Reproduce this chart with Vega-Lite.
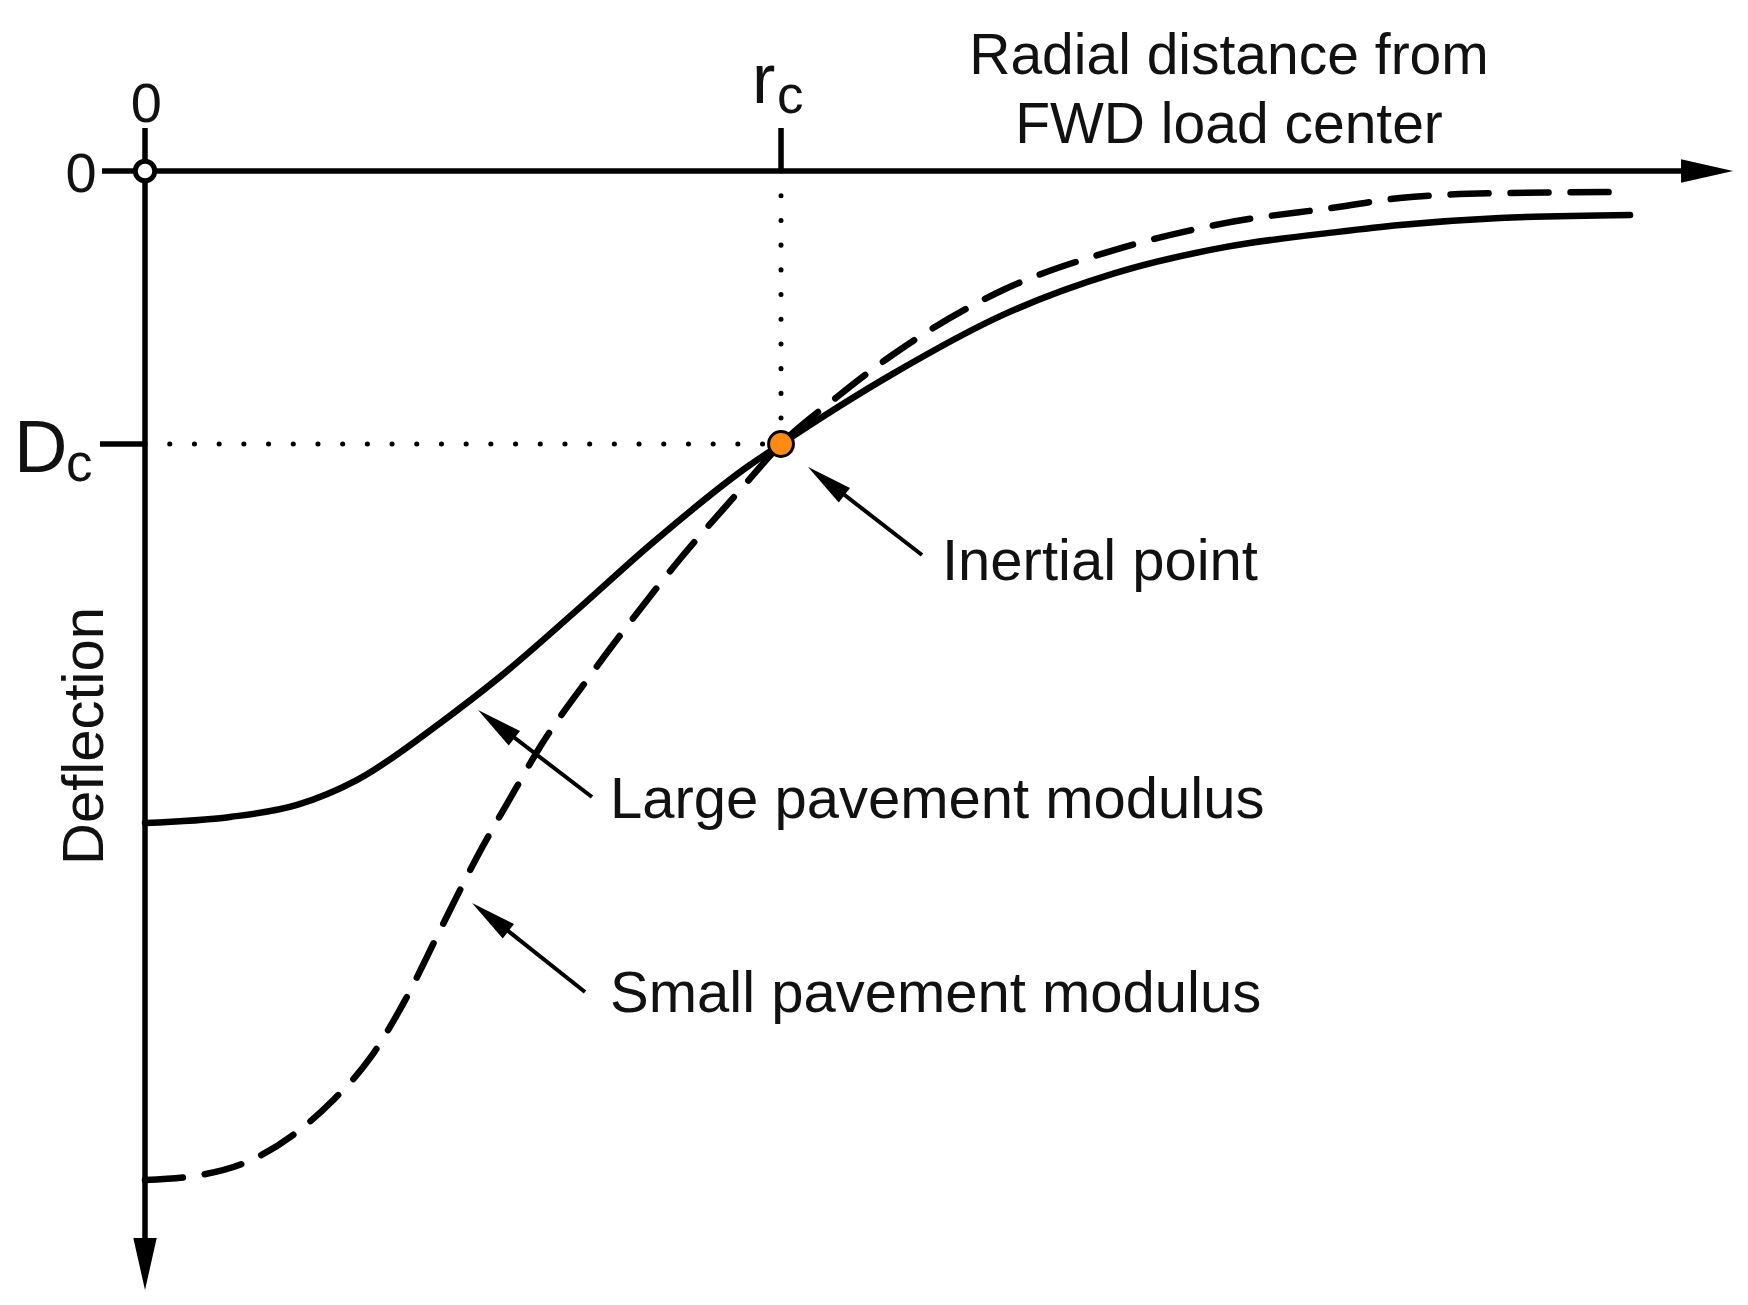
{
  "$schema": "https://vega.github.io/schema/vega-lite/v6.json",
  "width": 1748,
  "height": 1305,
  "autosize": {"type": "none"},
  "padding": 0,
  "background": "white",
  "config": {"view": {"stroke": null}, "text": {"font": "Liberation Sans", "color": "#111"}},
  "datasets": {
    "curve_large": [
      {"r": 0, "d": 2.388}, {"r": 0.134, "d": 2.366}, {"r": 0.239, "d": 2.322}, {"r": 0.333, "d": 2.231},
      {"r": 0.464, "d": 2.022}, {"r": 0.558, "d": 1.853}, {"r": 0.676, "d": 1.615}, {"r": 0.794, "d": 1.370},
      {"r": 0.951, "d": 1.077}, {"r": 1.0, "d": 1.0}, {"r": 1.175, "d": 0.744}, {"r": 1.349, "d": 0.527},
      {"r": 1.525, "d": 0.374}, {"r": 1.700, "d": 0.278}, {"r": 1.876, "d": 0.223}, {"r": 1.973, "d": 0.198},
      {"r": 2.130, "d": 0.172}, {"r": 2.335, "d": 0.161}
    ],
    "curve_small": [
      {"r": 0, "d": 3.696}, {"r": 0.086, "d": 3.678}, {"r": 0.160, "d": 3.630}, {"r": 0.239, "d": 3.520},
      {"r": 0.296, "d": 3.403}, {"r": 0.354, "d": 3.249}, {"r": 0.409, "d": 3.037}, {"r": 0.464, "d": 2.780},
      {"r": 0.522, "d": 2.513}, {"r": 0.579, "d": 2.278}, {"r": 0.621, "d": 2.110}, {"r": 0.695, "d": 1.864},
      {"r": 0.763, "d": 1.652}, {"r": 0.836, "d": 1.436}, {"r": 0.936, "d": 1.168}, {"r": 1.0, "d": 1.0},
      {"r": 1.088, "d": 0.828}, {"r": 1.175, "d": 0.674}, {"r": 1.349, "d": 0.436}, {"r": 1.525, "d": 0.289},
      {"r": 1.700, "d": 0.190}, {"r": 1.876, "d": 0.132}, {"r": 1.973, "d": 0.099}, {"r": 2.130, "d": 0.081},
      {"r": 2.335, "d": 0.077}
    ],
    "axes": [
      {"x1": -0.0676, "y1": 0, "x2": 2.445, "y2": 0},
      {"x1": 0, "y1": -0.1575, "x2": 0, "y2": 3.989},
      {"x1": 1, "y1": -0.1575, "x2": 1, "y2": 0},
      {"x1": -0.0708, "y1": 1, "x2": 0, "y2": 1}
    ],
    "guides": [
      {"x1": 0, "y1": 1, "x2": 1, "y2": 1},
      {"x1": 1, "y1": 0, "x2": 1, "y2": 1}
    ],
    "tip_right": [{"x": 2.4969, "y": 0}],
    "tip_down": [{"x": 0, "y": 4.099}],
    "pointers": [
      {"x1": 0.7028, "y1": 2.2930, "x2": 0.5487, "y2": 2.0183, "xt": 0.5236, "yt": 1.9744},
      {"x1": 0.6918, "y1": 3.0073, "x2": 0.5393, "y2": 2.7253, "xt": 0.5142, "yt": 2.6813},
      {"x1": 1.2217, "y1": 1.4066, "x2": 1.0676, "y2": 1.1282, "xt": 1.0425, "yt": 1.0842}
    ],
    "origin": [{"x": 0, "y": 0}],
    "inertial": [{"x": 1, "y": 1}],
    "texts": [
      {"g": "zero", "x": 0.002, "y": -0.1795, "label": "0"},
      {"g": "zero", "x": -0.1006, "y": 0.0769, "label": "0"},
      {"g": "title", "x": 1.7044, "y": -0.3553, "label": "Radial distance from"},
      {"g": "title", "x": 1.7044, "y": -0.1026, "label": "FWD load center"},
      {"g": "ann", "x": 1.2531, "y": 1.4982, "label": "Inertial point"},
      {"g": "ann", "x": 0.7311, "y": 2.3700, "label": "Large pavement modulus"},
      {"g": "ann", "x": 0.7311, "y": 3.0806, "label": "Small pavement modulus"},
      {"g": "ylab", "x": -0.066, "y": 2.0696, "label": "Deflection"},
      {"g": "r", "x": 0.9544, "y": -0.2491, "label": "r"},
      {"g": "D", "x": -0.2060, "y": 1.1026, "label": "D"},
      {"g": "sub", "x": 0.9937, "y": -0.2125, "label": "c"},
      {"g": "sub", "x": -0.1242, "y": 1.1355, "label": "c"}
    ]
  },
  "layer": [
    {
      "data": {"name": "guides"},
      "mark": {"type": "rule", "color": "black", "strokeWidth": 5, "strokeDash": [0.1, 24.6], "strokeCap": "round"},
      "encoding": {
        "x": {"field": "x1", "type": "quantitative", "scale": {"domain": [-0.228, 2.5204], "nice": false, "zero": false}, "axis": null},
        "y": {"field": "y1", "type": "quantitative", "scale": {"domain": [-0.6264, 4.1538], "nice": false, "zero": false, "reverse": true}, "axis": null},
        "x2": {"field": "x2"},
        "y2": {"field": "y2"}
      }
    },
    {
      "data": {"name": "curve_large"},
      "mark": {"type": "line", "color": "black", "strokeWidth": 6.5, "strokeCap": "round", "interpolate": "monotone"},
      "encoding": {
        "x": {"field": "r", "type": "quantitative", "axis": null},
        "y": {"field": "d", "type": "quantitative", "axis": null}
      }
    },
    {
      "data": {"name": "curve_small"},
      "mark": {"type": "line", "color": "black", "strokeWidth": 6.5, "strokeCap": "round", "strokeDash": [38, 22], "interpolate": "monotone"},
      "encoding": {
        "x": {"field": "r", "type": "quantitative", "axis": null},
        "y": {"field": "d", "type": "quantitative", "axis": null}
      }
    },
    {
      "data": {"name": "axes"},
      "mark": {"type": "rule", "color": "black", "strokeWidth": 5.5},
      "encoding": {
        "x": {"field": "x1", "type": "quantitative", "axis": null},
        "y": {"field": "y1", "type": "quantitative", "axis": null},
        "x2": {"field": "x2"},
        "y2": {"field": "y2"}
      }
    },
    {
      "data": {"name": "tip_right"},
      "mark": {"type": "point", "shape": "M0,0 L-2,-0.45 L-2,0.45 Z", "filled": true, "color": "black", "size": 2704, "opacity": 1, "angle": 0},
      "encoding": {
        "x": {"field": "x", "type": "quantitative", "axis": null},
        "y": {"field": "y", "type": "quantitative", "axis": null}
      }
    },
    {
      "data": {"name": "tip_down"},
      "mark": {"type": "point", "shape": "M0,0 L-2,-0.45 L-2,0.45 Z", "filled": true, "color": "black", "size": 2704, "opacity": 1, "angle": 90},
      "encoding": {
        "x": {"field": "x", "type": "quantitative", "axis": null},
        "y": {"field": "y", "type": "quantitative", "axis": null}
      }
    },
    {
      "data": {"name": "pointers"},
      "mark": {"type": "rule", "color": "black", "strokeWidth": 4},
      "encoding": {
        "x": {"field": "x1", "type": "quantitative", "axis": null},
        "y": {"field": "y1", "type": "quantitative", "axis": null},
        "x2": {"field": "x2"},
        "y2": {"field": "y2"}
      }
    },
    {
      "data": {"name": "pointers"},
      "mark": {"type": "point", "shape": "M0,0 L-2,-0.4 L-2,0.4 Z", "filled": true, "color": "black", "size": 2116, "opacity": 1, "angle": 217.8},
      "encoding": {
        "x": {"field": "xt", "type": "quantitative", "axis": null},
        "y": {"field": "yt", "type": "quantitative", "axis": null}
      }
    },
    {
      "data": {"name": "origin"},
      "mark": {"type": "point", "shape": "circle", "filled": true, "fill": "white", "stroke": "black", "strokeWidth": 5, "size": 380, "opacity": 1},
      "encoding": {
        "x": {"field": "x", "type": "quantitative", "axis": null},
        "y": {"field": "y", "type": "quantitative", "axis": null}
      }
    },
    {
      "data": {"name": "inertial"},
      "mark": {"type": "point", "shape": "circle", "filled": true, "fill": "#FF8A12", "stroke": "black", "strokeWidth": 3, "size": 616, "opacity": 1},
      "encoding": {
        "x": {"field": "x", "type": "quantitative", "axis": null},
        "y": {"field": "y", "type": "quantitative", "axis": null}
      }
    },
    {
      "data": {"name": "texts"},
      "transform": [{"filter": "datum.g == 'zero'"}],
      "mark": {"type": "text", "fontSize": 56, "align": "center", "baseline": "alphabetic"},
      "encoding": {
        "x": {"field": "x", "type": "quantitative", "axis": null},
        "y": {"field": "y", "type": "quantitative", "axis": null},
        "text": {"field": "label"}
      }
    },
    {
      "data": {"name": "texts"},
      "transform": [{"filter": "datum.g == 'title'"}],
      "mark": {"type": "text", "fontSize": 57, "align": "center", "baseline": "alphabetic"},
      "encoding": {
        "x": {"field": "x", "type": "quantitative", "axis": null},
        "y": {"field": "y", "type": "quantitative", "axis": null},
        "text": {"field": "label"}
      }
    },
    {
      "data": {"name": "texts"},
      "transform": [{"filter": "datum.g == 'ann'"}],
      "mark": {"type": "text", "fontSize": 58, "align": "left", "baseline": "alphabetic"},
      "encoding": {
        "x": {"field": "x", "type": "quantitative", "axis": null},
        "y": {"field": "y", "type": "quantitative", "axis": null},
        "text": {"field": "label"}
      }
    },
    {
      "data": {"name": "texts"},
      "transform": [{"filter": "datum.g == 'ylab'"}],
      "mark": {"type": "text", "fontSize": 58, "align": "center", "baseline": "alphabetic", "angle": 270},
      "encoding": {
        "x": {"field": "x", "type": "quantitative", "axis": null},
        "y": {"field": "y", "type": "quantitative", "axis": null},
        "text": {"field": "label"}
      }
    },
    {
      "data": {"name": "texts"},
      "transform": [{"filter": "datum.g == 'r'"}],
      "mark": {"type": "text", "fontSize": 70, "align": "left", "baseline": "alphabetic"},
      "encoding": {
        "x": {"field": "x", "type": "quantitative", "axis": null},
        "y": {"field": "y", "type": "quantitative", "axis": null},
        "text": {"field": "label"}
      }
    },
    {
      "data": {"name": "texts"},
      "transform": [{"filter": "datum.g == 'D'"}],
      "mark": {"type": "text", "fontSize": 74, "align": "left", "baseline": "alphabetic"},
      "encoding": {
        "x": {"field": "x", "type": "quantitative", "axis": null},
        "y": {"field": "y", "type": "quantitative", "axis": null},
        "text": {"field": "label"}
      }
    },
    {
      "data": {"name": "texts"},
      "transform": [{"filter": "datum.g == 'sub'"}],
      "mark": {"type": "text", "fontSize": 53, "align": "left", "baseline": "alphabetic"},
      "encoding": {
        "x": {"field": "x", "type": "quantitative", "axis": null},
        "y": {"field": "y", "type": "quantitative", "axis": null},
        "text": {"field": "label"}
      }
    }
  ]
}
